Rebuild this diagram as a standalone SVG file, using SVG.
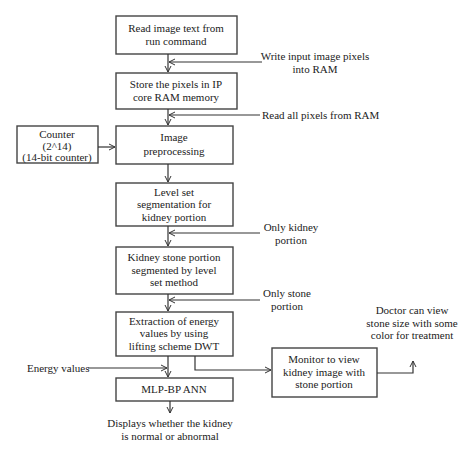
<svg xmlns="http://www.w3.org/2000/svg" width="474" height="459" viewBox="0 0 474 459">
<defs>
<marker id="ah" markerWidth="8" markerHeight="8" refX="7" refY="4" orient="auto" markerUnits="userSpaceOnUse">
<path d="M1,1 L7,4 L1,7" fill="none" stroke="#333" stroke-width="1"/>
</marker>
<style>
.box{fill:#fff;stroke:#444;stroke-width:1.4}
.t{font-family:"Liberation Serif","Times New Roman",serif;font-size:11px;fill:#222;text-anchor:middle}
.ts{font-family:"Liberation Serif","Times New Roman",serif;font-size:11px;fill:#222;text-anchor:start}
.c{fill:none;stroke:#333;stroke-width:1.2;marker-end:url(#ah)}
</style>
</defs>
<rect width="474" height="459" fill="#fff"/>
<g id="n1"><rect class="box" x="116" y="16" width="121" height="38"/><text class="t" x="176" y="32">Read image text from</text><text class="t" x="176" y="45">run command</text></g>
<g id="n2"><rect class="box" x="116" y="73" width="121" height="36"/><text class="t" x="176" y="88">Store the pixels in IP</text><text class="t" x="176" y="101">core RAM memory</text></g>
<g id="n3"><rect class="box" x="116" y="126" width="117" height="38"/><text class="t" x="174" y="141">Image</text><text class="t" x="174" y="155">preprocessing</text></g>
<g id="counter"><rect class="box" x="17" y="126" width="81" height="37"/><text class="t" x="57" y="138">Counter</text><text class="t" x="57" y="150">(2^14)</text><text class="t" x="57" y="161">(14-bit counter)</text></g>
<g id="n4"><rect class="box" x="116" y="183" width="117" height="43"/><text class="t" x="174" y="196">Level set</text><text class="t" x="174" y="208">segmentation for</text><text class="t" x="174" y="221">kidney portion</text></g>
<g id="n5"><rect class="box" x="116" y="247" width="117" height="47"/><text class="t" x="174" y="261">Kidney stone portion</text><text class="t" x="174" y="274">segmented by level</text><text class="t" x="174" y="286">set method</text></g>
<g id="n6"><rect class="box" x="116" y="312" width="117" height="44"/><text class="t" x="174" y="325">Extraction of energy</text><text class="t" x="174" y="337">values by using</text><text class="t" x="174" y="350">lifting scheme DWT</text></g>
<g id="n7"><rect class="box" x="116" y="378" width="117" height="23"/><text class="t" x="174" y="393">MLP-BP ANN</text></g>
<g id="monitor"><rect class="box" x="272" y="348" width="105" height="49"/><text class="t" x="324" y="363">Monitor to view</text><text class="t" x="324" y="376">kidney image with</text><text class="t" x="324" y="388">stone portion</text></g>
<g id="labels">
<text class="t" x="315" y="60">Write input image pixels</text><text class="t" x="315" y="73">into RAM</text>
<text class="ts" x="262" y="119">Read all pixels from RAM</text>
<text class="t" x="291" y="231">Only kidney</text><text class="t" x="291" y="244">portion</text>
<text class="t" x="287" y="297">Only stone</text><text class="t" x="287" y="310">portion</text>
<text class="ts" x="27" y="372">Energy values</text>
<text class="t" x="170" y="427">Displays whether the kidney</text><text class="t" x="170" y="440">is normal or abnormal</text>
<text class="t" x="412" y="314">Doctor can view</text><text class="t" x="412" y="327">stone size with some</text><text class="t" x="412" y="339">color for treatment</text>
</g>
<g id="connectors">
<path class="c" d="M168,54 V72"/>
<path class="c" d="M262,62 H169"/>
<path class="c" d="M168,109 V125"/>
<path class="c" d="M260,115 H169"/>
<path class="c" d="M98,147 H115"/>
<path class="c" d="M168,164 V182"/>
<path class="c" d="M168,226 V246"/>
<path class="c" d="M260,233 H169"/>
<path class="c" d="M168,294 V311"/>
<path class="c" d="M260,300 H169"/>
<path class="c" d="M168,356 V377"/>
<path class="c" d="M88,368 H167"/>
<path class="c" d="M195,356 V370 H271"/>
<path class="c" d="M170,401 V413"/>
<path class="c" d="M377,373 H413 V361"/>
</g>
</svg>
